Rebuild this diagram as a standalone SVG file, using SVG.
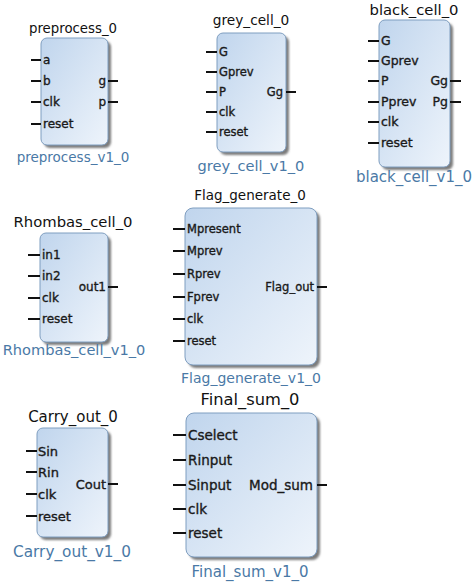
<svg xmlns="http://www.w3.org/2000/svg" width="474" height="582" viewBox="0 0 474 582">
<style>
text{font-family:"DejaVu Sans","Verdana",sans-serif;fill:#1a1a1a}
.title{text-anchor:middle;fill:#111}
.ver{text-anchor:middle;fill:#4a79a6}
.out{text-anchor:end}
.pl text{stroke:#1a1a1a;stroke-width:0.35}
.box{fill:url(#g);stroke:#7f9ec0;stroke-width:1}
.sh{fill:#7c7c7c;filter:url(#b)}
.pin{stroke:#111;stroke-width:2}
</style>
<defs>
<linearGradient id="g" x1="0" y1="0" x2="1" y2="1">
<stop offset="0" stop-color="#c0d5ed"/>
<stop offset="1" stop-color="#eef4fb"/>
</linearGradient>
<filter id="b" x="-20%" y="-20%" width="140%" height="140%"><feGaussianBlur stdDeviation="1.2"/></filter>
</defs>
<rect width="474" height="582" fill="#fff"/>
<g id="connectors"/>

<g id="preprocess_0">
<rect class="sh" x="44" y="41" width="67" height="107" rx="6"/>
<rect class="box" x="41" y="38" width="67" height="107" rx="6"/>
<text class="title" x="73" y="33" font-size="13.3">preprocess_0</text>
<g class="pin"><line x1="31" y1="60" x2="41" y2="60"/><line x1="31" y1="81" x2="41" y2="81"/><line x1="31" y1="102" x2="41" y2="102"/><line x1="31" y1="124" x2="41" y2="124"/><line x1="108" y1="81" x2="118" y2="81"/><line x1="108" y1="102" x2="118" y2="102"/></g>
<g class="pl" font-size="12"><text x="43" y="64">a</text><text x="43" y="85">b</text><text x="43" y="106">clk</text><text x="43" y="128">reset</text><text class="out" x="106" y="85">g</text><text class="out" x="106" y="106">p</text></g>
<text class="ver" x="73" y="162" font-size="13.5">preprocess_v1_0</text>
</g>

<g id="grey_cell_0">
<rect class="sh" x="220" y="36" width="69" height="119" rx="6"/>
<rect class="box" x="217" y="33" width="69" height="119" rx="6"/>
<text class="title" x="251" y="25" font-size="13.7">grey_cell_0</text>
<g class="pin"><line x1="206" y1="52" x2="217" y2="52"/><line x1="206" y1="72" x2="217" y2="72"/><line x1="206" y1="92" x2="217" y2="92"/><line x1="206" y1="112" x2="217" y2="112"/><line x1="206" y1="132" x2="217" y2="132"/><line x1="286" y1="92" x2="296" y2="92"/></g>
<g class="pl" font-size="11.5"><text x="219" y="56">G</text><text x="219" y="76">Gprev</text><text x="219" y="96">P</text><text x="219" y="116">clk</text><text x="219" y="136">reset</text><text class="out" x="283" y="96">Gg</text></g>
<text class="ver" x="251" y="171" font-size="14.6">grey_cell_v1_0</text>
</g>

<g id="black_cell_0">
<rect class="sh" x="382" y="23" width="71" height="147" rx="6"/>
<rect class="box" x="379" y="20" width="71" height="147" rx="6"/>
<text class="title" x="414" y="15" font-size="14.8">black_cell_0</text>
<g class="pin"><line x1="368" y1="41" x2="379" y2="41"/><line x1="368" y1="61" x2="379" y2="61"/><line x1="368" y1="81" x2="379" y2="81"/><line x1="368" y1="102" x2="379" y2="102"/><line x1="368" y1="122" x2="379" y2="122"/><line x1="368" y1="143" x2="379" y2="143"/><line x1="450" y1="81" x2="461" y2="81"/><line x1="450" y1="102" x2="461" y2="102"/></g>
<g class="pl" font-size="12.5"><text x="381" y="45">G</text><text x="381" y="65">Gprev</text><text x="381" y="85">P</text><text x="381" y="106">Pprev</text><text x="381" y="126">clk</text><text x="381" y="147">reset</text><text class="out" x="448" y="85">Gg</text><text class="out" x="448" y="106">Pg</text></g>
<text class="ver" x="414" y="182" font-size="15">black_cell_v1_0</text>
</g>

<g id="Rhombas_cell_0">
<rect class="sh" x="43" y="236" width="68" height="109" rx="6"/>
<rect class="box" x="40" y="233" width="68" height="109" rx="6"/>
<text class="title" x="73" y="227" font-size="14.8">Rhombas_cell_0</text>
<g class="pin"><line x1="28" y1="255" x2="40" y2="255"/><line x1="28" y1="276" x2="40" y2="276"/><line x1="28" y1="298" x2="40" y2="298"/><line x1="28" y1="319" x2="40" y2="319"/><line x1="108" y1="287" x2="118" y2="287"/></g>
<g class="pl" font-size="12"><text x="42" y="259">in1</text><text x="42" y="280">in2</text><text x="42" y="302">clk</text><text x="42" y="323">reset</text><text class="out" x="106" y="291">out1</text></g>
<text class="ver" x="74" y="355" font-size="14.6">Rhombas_cell_v1_0</text>
</g>

<g id="Flag_generate_0">
<rect class="sh" x="188" y="211" width="132" height="157" rx="8"/>
<rect class="box" x="185" y="208" width="132" height="157" rx="8"/>
<text class="title" x="250" y="200" font-size="13.5">Flag_generate_0</text>
<g class="pin"><line x1="173" y1="229" x2="185" y2="229"/><line x1="173" y1="251" x2="185" y2="251"/><line x1="173" y1="274" x2="185" y2="274"/><line x1="173" y1="297" x2="185" y2="297"/><line x1="173" y1="319" x2="185" y2="319"/><line x1="173" y1="341" x2="185" y2="341"/><line x1="317" y1="287" x2="327" y2="287"/></g>
<g class="pl" font-size="11.5"><text x="187" y="233">Mpresent</text><text x="187" y="255">Mprev</text><text x="187" y="278">Rprev</text><text x="187" y="301">Fprev</text><text x="187" y="323">clk</text><text x="187" y="345">reset</text><text class="out" x="314" y="291">Flag_out</text></g>
<text class="ver" x="251" y="383" font-size="14">Flag_generate_v1_0</text>
</g>

<g id="Carry_out_0">
<rect class="sh" x="40" y="431" width="71" height="109" rx="6"/>
<rect class="box" x="37" y="428" width="71" height="109" rx="6"/>
<text class="title" x="73" y="422" font-size="15">Carry_out_0</text>
<g class="pin"><line x1="26" y1="451" x2="37" y2="451"/><line x1="26" y1="472" x2="37" y2="472"/><line x1="26" y1="494" x2="37" y2="494"/><line x1="26" y1="516" x2="37" y2="516"/><line x1="108" y1="484" x2="118" y2="484"/></g>
<g class="pl" font-size="13"><text x="38" y="456">Sin</text><text x="38" y="477">Rin</text><text x="38" y="499">clk</text><text x="38" y="521">reset</text><text class="out" x="106" y="489">Cout</text></g>
<text class="ver" x="72" y="557" font-size="15.3">Carry_out_v1_0</text>
</g>

<g id="Final_sum_0">
<rect class="sh" x="189" y="416" width="131" height="144" rx="8"/>
<rect class="box" x="186" y="413" width="131" height="144" rx="8"/>
<text class="title" x="250" y="405" font-size="16.3">Final_sum_0</text>
<g class="pin"><line x1="173" y1="435" x2="186" y2="435"/><line x1="173" y1="460" x2="186" y2="460"/><line x1="173" y1="485" x2="186" y2="485"/><line x1="173" y1="509" x2="186" y2="509"/><line x1="173" y1="533" x2="186" y2="533"/><line x1="317" y1="485" x2="327" y2="485"/></g>
<g class="pl" font-size="13.5"><text x="188" y="440">Cselect</text><text x="188" y="465">Rinput</text><text x="188" y="490">Sinput</text><text x="188" y="514">clk</text><text x="188" y="538">reset</text><text class="out" x="313" y="490">Mod_sum</text></g>
<text class="ver" x="250" y="577" font-size="15">Final_sum_v1_0</text>
</g>
</svg>
